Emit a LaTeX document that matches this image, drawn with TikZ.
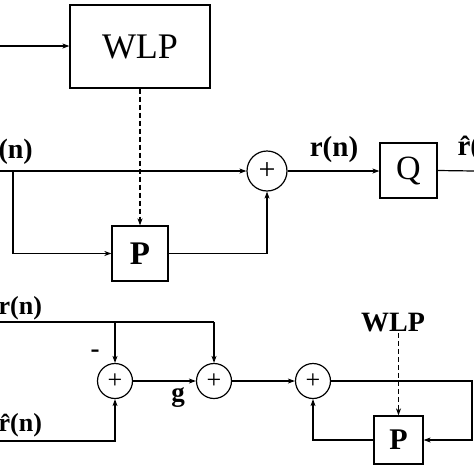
\documentclass[tikz,border=0pt]{standalone}
\usepackage{fontspec}
\setmainfont{Liberation Serif}
\usetikzlibrary{arrows.meta}
\begin{document}
\begin{tikzpicture}[x=1pt,y=-1pt,
  line width=1.2pt,
  >={Stealth[length=7pt,width=5pt,inset=2pt]},
  blockbox/.style={draw,rectangle,inner sep=0pt},
  sumnode/.style={draw,circle,inner sep=0pt,font=\fontsize{26}{26}\selectfont},
  lbl/.style={inner sep=0pt,font=\fontsize{27}{27}\selectfont\bfseries},
  dashline/.style={dashed,dash pattern=on 5pt off 3pt}]
\useasboundingbox (0,0) rectangle (474,474);
% top part
\node[blockbox,minimum width=140pt,minimum height=83pt,font=\fontsize{36}{36}\selectfont] (wlp1) at (140,46.5) {WLP};
\coordinate (in1) at (0,46);
\draw[->] (in1) -- (in1 -| wlp1.west);
\node[sumnode,minimum size=40pt,font=\fontsize{30}{30}\selectfont] (s1) at (267,171) {+};
\node[blockbox,minimum width=56pt,minimum height=55pt,font=\fontsize{33}{33}\selectfont\bfseries] (p1) at (140,253.5) {P};
\node[blockbox,minimum width=57pt,minimum height=55pt,font=\fontsize{34}{34}\selectfont] (q) at (408.5,170.5) {Q};
\coordinate (inL) at (0,171);
\coordinate (b1) at (13,171);
\coordinate (out1) at (474,171);
\draw[->] (inL) -- (s1.west);
\draw[->] (b1) |- (p1.west);
\draw[->,dashline] (wlp1.south) -- (p1.north);
\draw[->] (p1.east) -| (s1.south);
\draw[->] (s1.east) -- (s1.east -| q.west);
\draw (q.east) -- (out1);
\node[lbl,anchor=west,font=\fontsize{28}{28}\selectfont\bfseries] (lx) at (-2,152) {(n)};
\node[lbl,font=\fontsize{29}{29}\selectfont\bfseries] (lr1) at (334,150) {r(n)};
\node[lbl,anchor=west,font=\fontsize{29}{29}\selectfont\bfseries] (lrh1) at (457,149) {\^{r}(n)};
% bottom part
\node[sumnode,minimum size=35pt] (s2a) at (115,381) {+};
\node[sumnode,minimum size=35pt] (s2b) at (214,381) {+};
\node[sumnode,minimum size=35pt] (s2c) at (313,381) {+};
\node[blockbox,minimum width=49pt,minimum height=48pt,font=\fontsize{30}{30}\selectfont\bfseries] (p2) at (398.5,440) {P};
\node[lbl,font=\fontsize{28}{28}\selectfont\bfseries] (wlp2) at (393,323) {WLP};
\coordinate (inR) at (0,322);
\coordinate (c1) at (115,322);
\coordinate (c2) at (214,322);
\coordinate (inRh) at (0,441);
\coordinate (rt) at (472,381);
\draw (inR) -- (c2);
\draw[->] (c1) -- (s2a.north);
\draw[->] (c2) -- (s2b.north);
\draw[->] (inRh) -| (s2a.south);
\draw[->] (s2a.east) -- (s2b.west);
\draw[->] (s2b.east) -- (s2c.west);
\draw[->] (s2c.east) -- (rt) |- (p2.east);
\draw[->] (p2.west) -| (s2c.south);
\draw[->,dashline] (wlp2.south -| p2.north) -- (p2.north);
\node[lbl,font=\fontsize{26}{26}\selectfont\bfseries,anchor=west] (lr2) at (-2,308) {r(n)};
\node[lbl,font=\fontsize{26}{26}\selectfont\bfseries,anchor=west] (lrh2) at (-2,425) {\^{r}(n)};
\node[lbl] (lg) at (178,398) {g};
\node[lbl] (lm) at (95,354) {-};
\end{tikzpicture}
\end{document}
